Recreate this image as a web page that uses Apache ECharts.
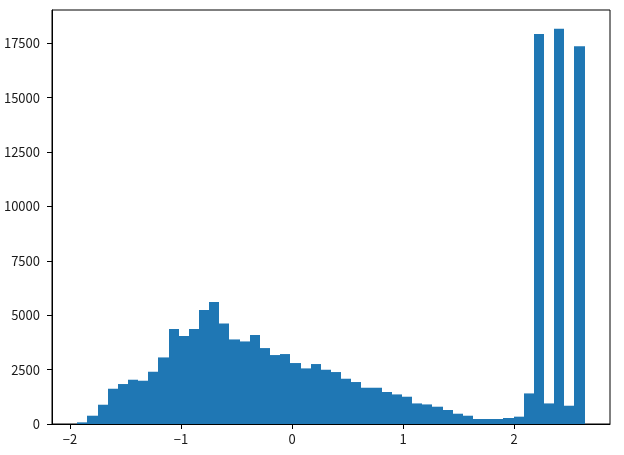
<!DOCTYPE html>
<html>
<head>
<meta charset="utf-8">
<script src="https://cdn.jsdelivr.net/npm/echarts@6/dist/echarts.min.js"></script>
<style>html,body{margin:0;padding:0;background:#fff;}#c{width:624px;height:455px;}</style>
</head>
<body>
<div id="c"></div>
<script>
// Histogram: 50 equal bins
const binStart = -1.934;
const binWidth = 0.0914;
const counts = [75, 381, 886, 1621, 1837, 2035, 1989, 2402, 3060, 4363,
  4041, 4363, 5236, 5604, 4622, 3887, 3795, 4087, 3490, 3169,
  3215, 2802, 2556, 2756, 2494, 2388, 2081, 1929, 1667, 1667,
  1470, 1360, 1254, 946, 900, 795, 643, 473, 381, 230,
  230, 230, 276, 337, 1406, 17927, 946, 18170, 840, 17360];
const xTicks = [-2, -1, 0, 1, 2];
const yTicks = [0, 2500, 5000, 7500, 10000, 12500, 15000, 17500];

const data = counts.map((c, i) => [binStart + i * binWidth, binStart + (i + 1) * binWidth, c]);
const fontFamily = '"Noto Sans CJK SC", "DejaVu Sans", sans-serif';

const chart = echarts.init(document.getElementById('c'));
chart.setOption({
  animation: false,
  grid: {left: 52, right: 14, top: 10, bottom: 31, show: true, borderColor: '#000', borderWidth: 1, containLabel: false},
  xAxis: {
    type: 'value', min: -2.162, max: 2.865,
    splitLine: {show: false},
    axisLine: {show: true, onZero: false, lineStyle: {color: '#000', width: 1}},
    axisTick: {show: true, inside: false, length: 5, lineStyle: {color: '#000'}, customValues: xTicks},
    axisLabel: {customValues: xTicks, color: '#1a1a1a', fontSize: 13, fontFamily: fontFamily, margin: 9,
      formatter: v => String(v).replace('-', '\u2212')}
  },
  yAxis: {
    type: 'value', min: 0, max: 19030,
    splitLine: {show: false},
    axisLine: {show: true, onZero: false, lineStyle: {color: '#000', width: 1}},
    axisTick: {show: true, inside: false, length: 5, lineStyle: {color: '#000'}, customValues: yTicks},
    axisLabel: {customValues: yTicks, color: '#1a1a1a', fontSize: 13, fontFamily: fontFamily, margin: 12,
      formatter: v => String(v)}
  },
  series: [{
    type: 'custom',
    data: data,
    encode: {x: [0, 1], y: 2},
    renderItem: function (params, api) {
      const p0 = api.coord([api.value(0), 0]);
      const p1 = api.coord([api.value(1), api.value(2)]);
      const x0 = Math.round(p0[0]), x1 = Math.round(p1[0]);
      return {
        type: 'rect',
        shape: {x: x0, y: p1[1], width: x1 - x0, height: p0[1] - p1[1]},
        style: {fill: '#1f77b4'}
      };
    }
  }]
});
</script>
</body>
</html>
